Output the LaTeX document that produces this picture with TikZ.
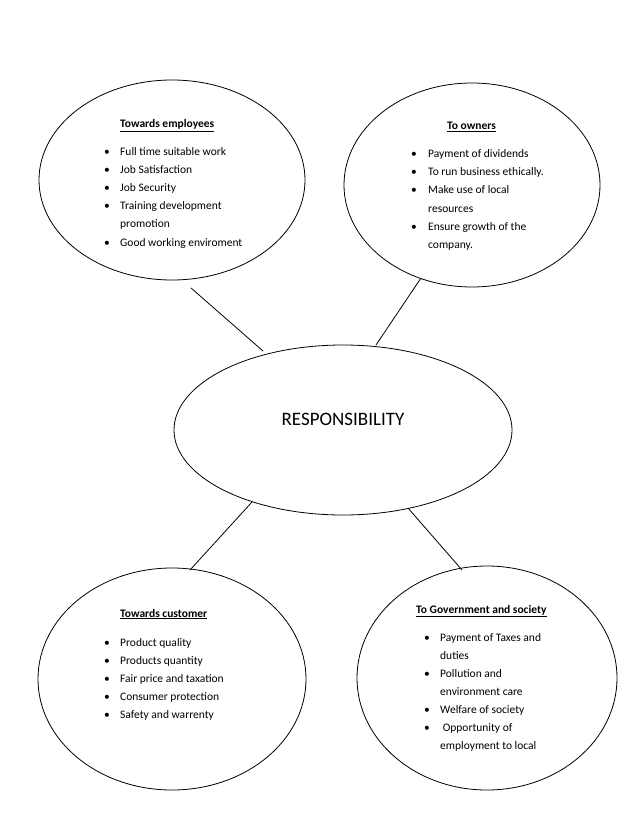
\documentclass[tikz,border=0pt]{standalone}
\usepackage{fontspec}
\setmainfont{Carlito}
\usetikzlibrary{shapes.geometric}
\begin{document}
\begin{tikzpicture}[x=1pt,y=-1pt,
  ell/.style={draw,line width=0.8pt},
  txt/.style={anchor=base west,inner sep=0pt,font=\fontsize{11.5}{13}\selectfont},
  ttl/.style={anchor=base west,inner sep=0pt,font=\fontsize{11.5}{13}\selectfont\bfseries},
  bul/.style={anchor=base,inner sep=0pt,font=\fontsize{11.5}{13}\selectfont},
  conn/.style={line width=0.8pt}]
\useasboundingbox (0,0) rectangle (638,826);
\draw[ell] (172,180) ellipse [x radius=133,y radius=100];
\draw[ell] (472,185) ellipse [x radius=128,y radius=102];
\draw[ell] (343,430) ellipse [x radius=169,y radius=85];
\draw[ell] (172,679) ellipse [x radius=134,y radius=111];
\draw[ell] (487,678) ellipse [x radius=130,y radius=112];
\coordinate (a1) at (191,288); \coordinate (a2) at (263,351);
\coordinate (b1) at (421,278); \coordinate (b2) at (376,345);
\coordinate (c1) at (252,502); \coordinate (c2) at (190,570);
\coordinate (d1) at (408,508); \coordinate (d2) at (462,570);
\draw[conn] (a1)--(a2); \draw[conn] (b1)--(b2); \draw[conn] (c1)--(c2); \draw[conn] (d1)--(d2);
\node[anchor=base,font=\fontsize{19}{22}\selectfont] (resp) at (343,425) {RESPONSIBILITY};
% top-left
\node[ttl] (t1) at (120,128) {\underline{Towards employees}};
\foreach \y/\t [count=\i] in {156/Full time suitable work,174/Job Satisfaction,192/Job Security,210/Training development,246/Good working enviroment}{
  \node[bul] (tlb\i) at (107,\y) {•}; \node[txt] (tl\i) at (120,\y) {\t};}
\node[txt] (tlx) at (120,228) {promotion};
% top-right
\node[ttl] (t2) at (447,130) {\underline{To owners}};
\foreach \y/\t [count=\i] in {158/Payment of dividends,176/To run business ethically.,194/Make use of local,230/Ensure growth of the}{
  \node[bul] (trb\i) at (414,\y) {•}; \node[txt] (tr\i) at (428,\y) {\t};}
\node[txt] (trx1) at (428,212) {resources};
\node[txt] (trx2) at (428,248) {company.};
% bottom-left
\node[ttl] (t3) at (120,617) {\underline{Towards customer}};
\foreach \y/\t [count=\i] in {646/Product quality,664/Products quantity,682/Fair price and taxation,700/Consumer protection,718/Safety and warrenty}{
  \node[bul] (blb\i) at (107,\y) {•}; \node[txt] (bl\i) at (120,\y) {\t};}
% bottom-right
\node[ttl] (t4) at (416,613) {\underline{To Government and society}};
\foreach \y/\t [count=\i] in {641/Payment of Taxes and,677/Pollution and,713/Welfare of society,731/{\ Opportunity of}}{
  \node[bul] (brb\i) at (427,\y) {•}; \node[txt] (br\i) at (440,\y) {\t};}
\node[txt] (brx1) at (440,659) {duties};
\node[txt] (brx2) at (440,695) {environment care};
\node[txt] (brx3) at (440,749) {employment to local};
\end{tikzpicture}
\end{document}
